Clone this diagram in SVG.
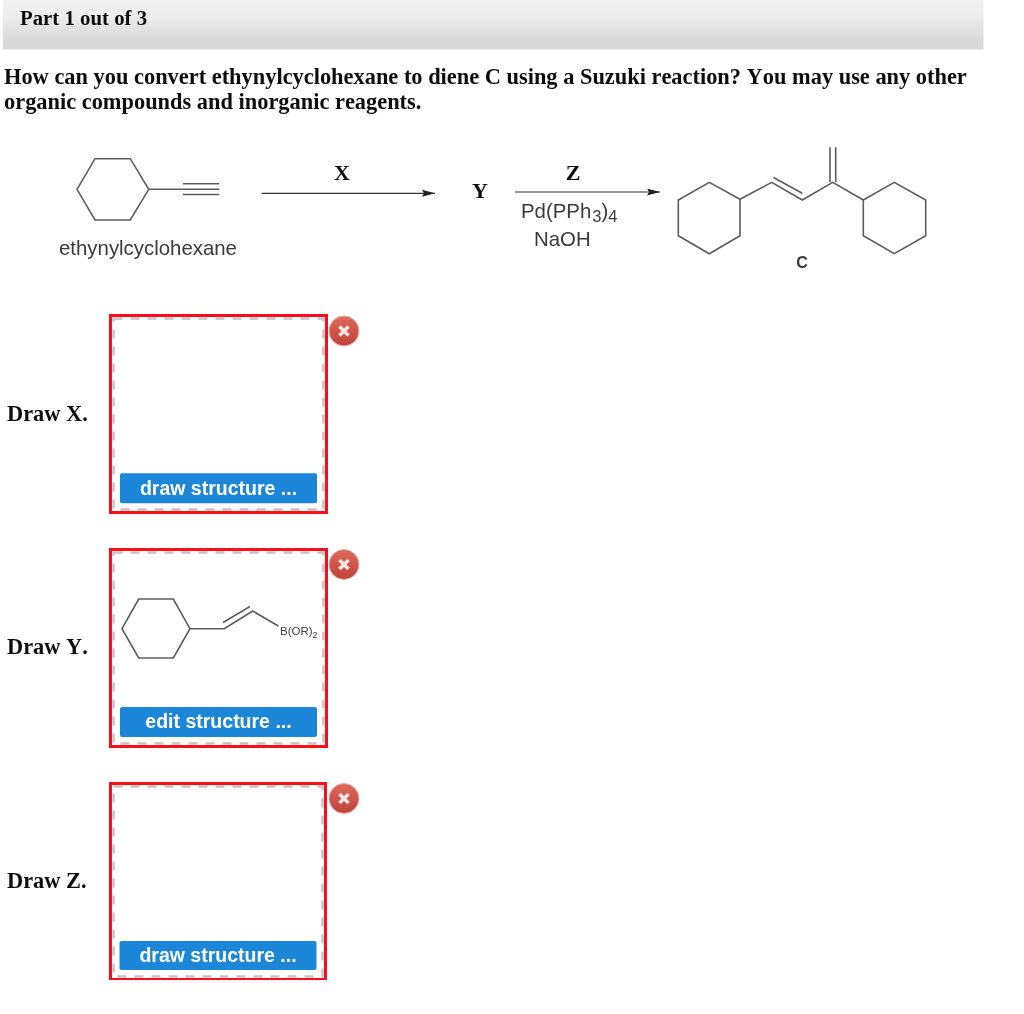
<svg xmlns="http://www.w3.org/2000/svg" width="1024" height="1014" viewBox="0 0 1024 1014">
<style>
.s{font-family:"Liberation Serif","Times New Roman",serif;font-weight:bold;fill:#111;font-kerning:none}
.a{font-family:"Liberation Sans",Arial,sans-serif;fill:#3a3a3a}
.b{fill:none;stroke:#5c5c5c;stroke-width:1.6;stroke-linejoin:miter}
.k{fill:none;stroke:#333;stroke-width:1.2}
.outer{fill:#fff;stroke:#fb0d1b;stroke-width:3}
.dash{fill:none;stroke:#c4c4c4;stroke-width:2.500;stroke-dasharray:9 8}
.btn{fill:#1f87d8}
.bt{font-family:"Liberation Sans",Arial,sans-serif;font-weight:bold;font-size:19.500px;fill:#fff;text-anchor:middle}
.cx{stroke:#e7b0a8;stroke-width:1}
.xm{stroke:#f6e6e2;stroke-width:3.500;stroke-linecap:butt}
</style>
<defs>
<linearGradient id="hg" x1="0" y1="0" x2="0" y2="1"><stop offset="0" stop-color="#f1f1f1"/><stop offset="0.3" stop-color="#eeeeee"/><stop offset="0.8" stop-color="#d9d9d9"/><stop offset="1" stop-color="#d8d8d8"/></linearGradient>
<linearGradient id="cg" x1="0" y1="0" x2="0" y2="1"><stop offset="0" stop-color="#df6a5c"/><stop offset="1" stop-color="#c0423a"/></linearGradient>
<marker id="ah" markerUnits="userSpaceOnUse" markerWidth="14" markerHeight="8" refX="13" refY="3.500" orient="auto"><path d="M0 0L13 3.500L0 7L2 3.500Z" fill="#222"/></marker>
<filter id="soft" x="0" y="0" width="1" height="1"><feGaussianBlur stdDeviation="0.350"/></filter>
</defs>
<rect width="1024" height="1014" fill="#fff"/>
<g filter="url(#soft)">
<g id="header"><rect x="3" y="0" width="980.500" height="49.500" fill="url(#hg)"/><text class="s" x="20" y="25" font-size="20.800">Part 1 out of 3</text></g>
<g id="question">
<text class="s" x="4" y="84" font-size="22.400">How can you convert ethynylcyclohexane to diene C using a Suzuki reaction? You may use any other</text>
<text class="s" x="4" y="109" font-size="22.400">organic compounds and inorganic reagents.</text>
</g>
<g id="ethynylcyclohexane">
<path class="b" d="M77 189.300L95 158.700H130.300L148.700 189.300L130.300 220H95Z"/>
<path class="b" d="M148.700 189.300H219.300M183 183.700H219.300M183 194.500H219.300"/>
<text class="a" x="59" y="255" font-size="20.400">ethynylcyclohexane</text>
</g>
<g id="connectors">
<line class="k" x1="261.700" y1="193.300" x2="435" y2="193.300" marker-end="url(#ah)"/>
<line class="k" x1="515" y1="192" x2="660" y2="192" marker-end="url(#ah)"/>
</g>
<g id="label-x"><text class="s" x="342" y="180" font-size="22" text-anchor="middle">X</text></g>
<g id="label-y"><text class="s" x="480" y="198" font-size="22" text-anchor="middle">Y</text></g>
<g id="label-z"><text class="s" x="573" y="180" font-size="22" text-anchor="middle">Z</text></g>
<g id="reagents">
<text class="a" x="521" y="218" font-size="20.400">Pd(PPh<tspan font-size="16.500" dy="4" dx="1">3</tspan><tspan dy="-4">)</tspan><tspan font-size="16.500" dy="4">4</tspan></text>
<text class="a" x="534" y="246" font-size="20.400">NaOH</text>
</g>
<g id="diene-c">
<path class="b" d="M740 199.300L709.300 182.300L678.300 200V235.700L709.300 253.700L740 235.700Z"/>
<path class="b" d="M740 199.300L771.700 182.300L802.300 200L832.700 182.300L863.300 200"/>
<path class="b" d="M773.500 177.500L802.300 193.300M830 147.300V182.300M835.700 147.300V182.300"/>
<path class="b" d="M863.300 200L894.300 182.300L925.700 200V235.700L894.300 253.700L863.300 235.700Z"/>
<text class="a" x="802" y="268" font-size="16" font-weight="bold" text-anchor="middle">C</text>
</g>
<g id="draw-x">
<text class="s" x="7" y="421" font-size="22.400">Draw X.</text>
<rect class="outer" x="110.500" y="315.500" width="216" height="197"/>
<rect class="dash" x="113.500" y="318.500" width="210" height="191"/>
<rect class="btn" x="120" y="473.300" width="197" height="30" rx="2"/>
<text class="bt" x="218.500" y="495">draw structure ...</text>
<circle class="cx" cx="344" cy="331" r="15" fill="url(#cg)"/>
<path class="xm" d="M339.500 326.500L348.500 335.500M348.500 326.500L339.500 335.500"/>
</g>
<g id="draw-y">
<text class="s" x="7" y="654" font-size="22.400">Draw Y.</text>
<rect class="outer" x="110.500" y="549.500" width="216" height="197"/>
<rect class="dash" x="113.500" y="552.500" width="210" height="191"/>
<path class="b" d="M122 628.700L138.700 599H173.300L190 628.700L173.300 658H138.700Z"/>
<path class="b" d="M190 628.700H224.300L252.700 611L278.300 626M223 622.500L250 606.500"/>
<text class="a" x="280" y="635" font-size="11.500">B(OR)<tspan font-size="9" dy="2.500">2</tspan></text>
<rect class="btn" x="120" y="707" width="197" height="30" rx="2"/>
<text class="bt" x="218.500" y="728">edit structure ...</text>
<circle class="cx" cx="344" cy="564.500" r="15" fill="url(#cg)"/>
<path class="xm" d="M339.500 560L348.500 569M348.500 560L339.500 569"/>
</g>
<g id="draw-z">
<text class="s" x="7" y="888" font-size="22.400">Draw Z.</text>
<rect class="outer" x="110.500" y="783.500" width="215" height="196"/>
<rect class="dash" x="113.500" y="786.500" width="209" height="190"/>
<rect class="btn" x="119.500" y="941" width="197" height="29" rx="2"/>
<text class="bt" x="218" y="962">draw structure ...</text>
<circle class="cx" cx="344" cy="798.500" r="15" fill="url(#cg)"/>
<path class="xm" d="M339.500 794L348.500 803M348.500 794L339.500 803"/>
</g>
</g>
</svg>
